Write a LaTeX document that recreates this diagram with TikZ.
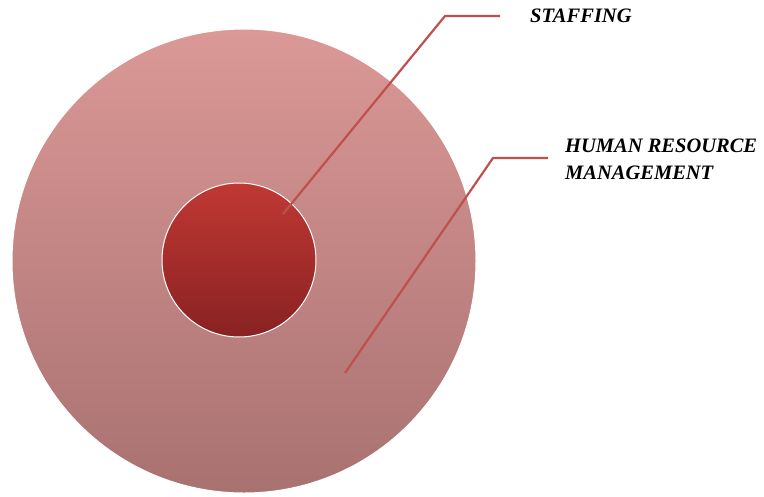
\documentclass[tikz,border=0pt]{standalone}
\usepackage{fontspec}
\newfontfamily\hrfont{Liberation Serif}
\usetikzlibrary{positioning}

\definecolor{ringtop}{RGB}{219,152,150}
\definecolor{ringbot}{RGB}{168,114,113}
\definecolor{coretop}{RGB}{192,56,52}
\definecolor{corebot}{RGB}{136,34,34}
\definecolor{leader}{RGB}{192,80,77}

\begin{document}
\begin{tikzpicture}
		[x=1pt,y=-1pt,
		ring node/.style={shape=circle,draw=white,line width=1pt,inner sep=0pt},
		label node/.style={inner sep=0pt,font=\hrfont\bfseries\itshape\fontsize{20.5}{27}\selectfont,align=left},
		leader line/.style={draw=leader,line width=2.2pt}
		]
		
		\useasboundingbox (0,0) rectangle (764,496);
		
		\node [ring node,minimum size=464pt,top color=ringtop,bottom color=ringbot] (hrm) at (244,261) {};
		\node [ring node,minimum size=154pt,top color=coretop,bottom color=corebot] (staff) at (239,260) {};
		
		\coordinate (s1) at (283,214);
		\coordinate (s2) at (445,16);
		\coordinate (s3) at (500,16);
		\coordinate (h1) at (345,373);
		\coordinate (h2) at (493,158);
		\coordinate (h3) at (548,158);
		
		\node [label node,anchor=base west] (stafflabel) at (530,22) {STAFFING};
		\node [label node,anchor=north west] (hrmlabel) at (565,139) {HUMAN RESOURCE\\MANAGEMENT};
		
		\path[leader line]
		(s1) -- (s2) -- (s3)
		(h1) -- (h2) -- (h3)
		;
		
		\end{tikzpicture}
\end{document}
